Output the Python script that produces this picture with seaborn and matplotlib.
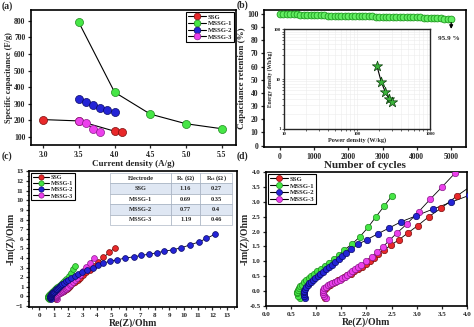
import numpy as np
import pandas as pd
import matplotlib
matplotlib.use("Agg")
import matplotlib.pyplot as plt
from matplotlib.lines import Line2D
from matplotlib.ticker import MultipleLocator, NullFormatter, FixedLocator, FixedFormatter
import seaborn as sns

# ---------------- data ----------------
# (a) specific capacitance vs current density
ssg_a_x = [3.0, 3.5, 4.0, 4.1]
ssg_a_y = [205, 197, 135, 130]
mssg1_a_x = [3.5, 4.0, 4.5, 5.0, 5.5]
mssg1_a_y = [790, 370, 238, 180, 150]
mssg2_a_x = [3.5, 3.6, 3.7, 3.8, 3.9, 4.0]
mssg2_a_y = [330, 312, 295, 277, 262, 248]
mssg3_a_x = [3.5, 3.6, 3.7, 3.8]
mssg3_a_y = [198, 183, 150, 133]

# (b) cycling stability
cycles = [0, 100, 200, 300, 400, 500, 600, 700, 800, 900, 1000, 1100, 1200, 1300, 1400,
          1500, 1600, 1700, 1800, 1900, 2000, 2100, 2200, 2300, 2400, 2500, 2600, 2700,
          2800, 2900, 3000, 3100, 3200, 3300, 3400, 3500, 3600, 3700, 3800, 3900, 4000,
          4100, 4200, 4300, 4400, 4500, 4600, 4700, 4800, 4900, 5000]
retention = [100.0, 99.9, 99.9, 99.8, 99.7, 99.6, 99.5, 99.4, 99.3, 99.2, 99.1, 99.0, 98.9,
             98.9, 98.8, 98.7, 98.7, 98.6, 98.5, 98.5, 98.4, 98.4, 98.3, 98.3, 98.2, 98.2,
             98.1, 98.1, 98.0, 98.0, 97.9, 97.9, 97.8, 97.8, 97.7, 97.7, 97.6, 97.6, 97.5,
             97.4, 97.4, 97.3, 97.2, 97.1, 97.0, 96.9, 96.8, 96.6, 96.4, 96.2, 95.9]
# (b) inset Ragone plot
power_density = [187, 215, 243, 273, 297]
energy_density = [18.3, 8.6, 5.5, 4.0, 3.4]

# (c)/(d) Nyquist data
ssg_re = [1.18, 1.15, 1.14, 1.14, 1.16, 1.19, 1.23, 1.28, 1.33, 1.38, 1.44, 1.50, 1.56, 1.62,
          1.69, 1.76, 1.83, 1.91, 1.99, 2.07, 2.15, 2.23, 2.35, 2.49, 2.65, 2.82, 3.02, 3.24,
          3.49, 3.81, 4.10, 4.45, 4.85, 5.25]
ssg_im = [-0.22, -0.15, -0.08, -0.01, 0.05, 0.11, 0.16, 0.21, 0.26, 0.31, 0.36, 0.41, 0.47,
          0.53, 0.59, 0.66, 0.73, 0.81, 0.90, 1.00, 1.11, 1.25, 1.38, 1.55, 1.73, 1.95, 2.20,
          2.50, 2.79, 3.21, 3.55, 4.05, 4.58, 5.06]
mssg1_re = [0.68, 0.64, 0.62, 0.62, 0.63, 0.65, 0.68, 0.71, 0.75, 0.80, 0.85, 0.90, 0.96,
            1.02, 1.09, 1.17, 1.26, 1.36, 1.46, 1.55, 1.71, 1.87, 2.03, 2.18, 2.35, 2.51]
mssg1_im = [-0.22, -0.15, -0.08, -0.02, 0.04, 0.10, 0.16, 0.22, 0.29, 0.36, 0.43, 0.50, 0.58,
            0.66, 0.75, 0.85, 0.96, 1.09, 1.22, 1.37, 1.58, 1.83, 2.14, 2.48, 2.85, 3.21]
mssg2_re = [0.78, 0.76, 0.75, 0.75, 0.76, 0.78, 0.80, 0.83, 0.86, 0.90, 0.94, 0.98, 1.03, 1.08,
            1.13, 1.19, 1.25, 1.31, 1.38, 1.45, 1.52, 1.60, 1.69, 1.83, 2.01, 2.22, 2.45, 2.69,
            2.99, 3.33, 3.69, 4.05, 4.44, 4.91, 5.42, 5.95, 6.53, 7.08, 7.62, 8.15, 8.66, 9.24,
            9.84, 10.46, 11.09, 11.57, 12.15]
mssg2_im = [-0.22, -0.16, -0.10, -0.04, 0.02, 0.08, 0.14, 0.20, 0.26, 0.32, 0.38, 0.44, 0.51,
            0.58, 0.65, 0.73, 0.81, 0.89, 0.98, 1.07, 1.17, 1.28, 1.40, 1.57, 1.73, 1.92, 2.12,
            2.33, 2.53, 2.76, 2.99, 3.22, 3.47, 3.67, 3.81, 3.99, 4.12, 4.26, 4.40, 4.54, 4.70,
            4.85, 5.06, 5.37, 5.68, 6.03, 6.45]
mssg3_re = [1.20, 1.16, 1.14, 1.13, 1.14, 1.16, 1.19, 1.23, 1.27, 1.32, 1.37, 1.42, 1.47, 1.52,
            1.57, 1.62, 1.67, 1.72, 1.78, 1.84, 1.90, 2.00, 2.10, 2.20, 2.32, 2.45, 2.60, 2.80,
            3.04, 3.27, 3.51, 3.76]
mssg3_im = [-0.24, -0.18, -0.11, -0.04, 0.03, 0.09, 0.14, 0.19, 0.23, 0.27, 0.31, 0.35, 0.39,
            0.44, 0.49, 0.55, 0.61, 0.67, 0.74, 0.81, 0.89, 1.02, 1.16, 1.30, 1.47, 1.70, 1.94,
            2.25, 2.67, 3.09, 3.51, 3.96]

# table
table_rows = [["Electrode", r"R$_{\rm s}$ (Ω)", r"R$_{\rm ct}$ (Ω)"],
              ["SSG", "1.16", "0.27"],
              ["MSSG-1", "0.69", "0.35"],
              ["MSSG-2", "0.77", "0.4"],
              ["MSSG-3", "1.19", "0.46"]]

labels = ["SSG", "MSSG-1", "MSSG-2", "MSSG-3"]
faces = ["#e8282a", "#46e646", "#2424d6", "#ec40ec"]
edges = ["#7a0c0c", "#1d8a1d", "#0a0a66", "#8a1a8a"]

# ---------------- style ----------------
sns.set_style("ticks")
plt.rcParams["font.family"] = ["Liberation Serif", "DejaVu Serif"]
plt.rcParams["font.weight"] = "bold"
plt.rcParams["axes.labelweight"] = "bold"
plt.rcParams["mathtext.fontset"] = "custom"
plt.rcParams["mathtext.rm"] = "Liberation Serif:bold"
plt.rcParams["mathtext.it"] = "Liberation Serif:bold"
plt.rcParams["mathtext.bf"] = "Liberation Serif:bold"
plt.rcParams["axes.linewidth"] = 1.2
plt.rcParams["xtick.major.width"] = 0.9
plt.rcParams["ytick.major.width"] = 0.9
plt.rcParams["xtick.major.size"] = 2.5
plt.rcParams["ytick.major.size"] = 2.5
plt.rcParams["xtick.minor.size"] = 1.5
plt.rcParams["ytick.minor.size"] = 1.5
plt.rcParams["xtick.major.pad"] = 1.5
plt.rcParams["ytick.major.pad"] = 1.5

fig = plt.figure(figsize=(4.74, 3.27), dpi=100)


def series(ax, x, y, face, edge, ms, lw=0.8):
    df = pd.DataFrame({"x": x, "y": y})
    sns.lineplot(data=df, x="x", y="y", ax=ax, color="black", lw=lw, sort=False,
                 estimator=None, zorder=2)
    sns.scatterplot(data=df, x="x", y="y", ax=ax, color=face, edgecolor=edge, s=ms ** 2,
                    linewidth=0.5, zorder=3)


def make_legend(ax, ms, loc, fs, bbox=None):
    handles = [Line2D([0], [0], color="black", lw=0.8, marker="o", mfc=f, mec=e, mew=0.5, ms=ms)
               for f, e in zip(faces, edges)]
    leg = ax.legend(handles, labels, loc=loc, fontsize=fs, frameon=True, fancybox=False,
                    edgecolor="black", handlelength=2.6, handletextpad=0.3, borderpad=0.3,
                    labelspacing=0.15, borderaxespad=0.3, bbox_to_anchor=bbox)
    leg.get_frame().set_linewidth(0.8)
    leg.get_frame().set_alpha(1)


def frame(ax, fs=5.5):
    ax.tick_params(labelsize=fs, direction="out")
    for s in ax.spines.values():
        s.set_visible(True)
        s.set_color("black")
    for lab in ax.get_xticklabels() + ax.get_yticklabels():
        lab.set_fontweight("bold")


# ---------------- (a) ----------------
ax_a = fig.add_axes([0.0654, 0.5566, 0.4325, 0.4128])
for (x, y), f, e in zip([(ssg_a_x, ssg_a_y), (mssg1_a_x, mssg1_a_y),
                         (mssg2_a_x, mssg2_a_y), (mssg3_a_x, mssg3_a_y)], faces, edges):
    series(ax_a, x, y, f, e, 5.8)
ax_a.set_xlim(2.83, 5.7)
ax_a.set_ylim(52, 865)
ax_a.xaxis.set_major_locator(MultipleLocator(0.5))
ax_a.yaxis.set_major_locator(MultipleLocator(100))
ax_a.xaxis.set_major_formatter(matplotlib.ticker.FormatStrFormatter("%.1f"))
ax_a.set_xlabel("Current density (A/g)", fontsize=6.5, labelpad=1)
ax_a.set_ylabel("Specific capacitance (F/g)", fontsize=6, labelpad=1)
frame(ax_a)
make_legend(ax_a, 4.8, "upper right", 4.8)

# ---------------- (b) ----------------
ax_b = fig.add_axes([0.557, 0.5505, 0.426, 0.419])
sns.scatterplot(x=cycles, y=retention, ax=ax_b, color="#62ee62", edgecolor="#1f9a1f",
                s=24, linewidth=0.6, zorder=3)
ax_b.set_xlim(-460, 5430)
ax_b.set_ylim(-1, 103)
ax_b.xaxis.set_major_locator(MultipleLocator(1000))
ax_b.yaxis.set_major_locator(MultipleLocator(10))
ax_b.set_xlabel("Number of cycles", fontsize=8, labelpad=0)
ax_b.set_ylabel("Capacitance retention (%)", fontsize=6.5, labelpad=1)
frame(ax_b)
ax_b.annotate("", xy=(5000, 86.5), xytext=(5000, 95.5),
              arrowprops=dict(arrowstyle="-|>", color="black", lw=0.9, mutation_scale=5))
ax_b.text(4930, 81.5, "95.9 %", fontsize=5.2, ha="center", va="center", fontweight="bold")

ax_in = fig.add_axes([0.5985, 0.6064, 0.3093, 0.304])
ax_in.set_xscale("log")
ax_in.set_yscale("log")
ax_in.set_xlim(10, 1000)
ax_in.set_ylim(1, 100)
ax_in.grid(True, which="both", color="#ececec", lw=0.4)
sns.lineplot(x=power_density, y=energy_density, ax=ax_in, color="black", lw=0.8, sort=False,
             estimator=None, zorder=2)
sns.scatterplot(x=power_density, y=energy_density, ax=ax_in, marker="*", s=60,
                color="#3bb53b", edgecolor="#0b3a0b", linewidth=0.5, zorder=3)
ax_in.xaxis.set_major_locator(FixedLocator([10, 100, 1000]))
ax_in.xaxis.set_major_formatter(FixedFormatter(["10", "100", "1000"]))
ax_in.yaxis.set_major_locator(FixedLocator([1, 10, 100]))
ax_in.yaxis.set_major_formatter(FixedFormatter(["1", "10", "100"]))
ax_in.xaxis.set_minor_formatter(NullFormatter())
ax_in.yaxis.set_minor_formatter(NullFormatter())
ax_in.set_xlabel("Power density (W/kg)", fontsize=4.5, labelpad=1)
ax_in.set_ylabel("Energy density (Wh/kg)", fontsize=4, labelpad=0)
ax_in.tick_params(labelsize=3.5, which="both", length=1.2, width=0.5, pad=1)
for s in ax_in.spines.values():
    s.set_linewidth(1.0)

# ---------------- (c) ----------------
nyq = [(ssg_re, ssg_im, 0), (mssg1_re, mssg1_im, 1), (mssg3_re, mssg3_im, 3),
       (mssg2_re, mssg2_im, 2)]
ax_c = fig.add_axes([0.0612, 0.0612, 0.4388, 0.4159])
for x, y, i in nyq:
    series(ax_c, x, y, faces[i], edges[i], 4.2, lw=0.6)
ax_c.set_xlim(-0.71, 13.7)
ax_c.set_ylim(-1.1, 13.05)
ax_c.xaxis.set_major_locator(MultipleLocator(1))
ax_c.yaxis.set_major_locator(MultipleLocator(1))
ax_c.xaxis.set_minor_locator(MultipleLocator(0.5))
ax_c.yaxis.set_minor_locator(MultipleLocator(0.5))
ax_c.set_xlabel("Re(Z)/Ohm", fontsize=7, labelpad=0.5)
ax_c.set_ylabel("-Im(Z)/Ohm", fontsize=7, labelpad=0)
frame(ax_c, 5)
make_legend(ax_c, 3.8, "upper left", 4.4)

tab = ax_c.table(cellText=table_rows, cellLoc="center", bbox=[0.389, 0.603, 0.587, 0.382],
                 colWidths=[0.5, 0.24, 0.26])
tab.auto_set_font_size(False)
tab.set_fontsize(4.6)
for (r, c), cell in tab.get_celld().items():
    cell.set_linewidth(0.4)
    cell.set_edgecolor("#9aa6b8")
    cell.get_text().set_fontweight("bold")
    cell.set_facecolor("#dfe7f3" if r in (1, 3) else "white")

# ---------------- (d) ----------------
ax_d = fig.add_axes([0.5612, 0.0642, 0.424, 0.4098])
for x, y, i in nyq:
    series(ax_d, x, y, faces[i], edges[i], 4.6, lw=0.6)
ax_d.set_xlim(0, 4.0)
ax_d.set_ylim(-0.5, 4.0)
ax_d.xaxis.set_major_locator(MultipleLocator(0.5))
ax_d.yaxis.set_major_locator(MultipleLocator(0.5))
fmt = matplotlib.ticker.FormatStrFormatter("%.1f")
ax_d.xaxis.set_major_formatter(fmt)
ax_d.yaxis.set_major_formatter(fmt)
ax_d.set_xlabel("Re(Z)/Ohm", fontsize=7, labelpad=0.5)
ax_d.set_ylabel("-Im(Z)/Ohm", fontsize=7, labelpad=0)
frame(ax_d, 5)
make_legend(ax_d, 4.3, "upper left", 4.9)

# panel labels
for txt, x, y in [("(a)", 0.004, 0.997), ("(b)", 0.5, 0.999), ("(c)", 0.004, 0.538),
                  ("(d)", 0.5, 0.538)]:
    fig.text(x, y, txt, fontsize=7, fontweight="bold", va="top", ha="left")

fig.savefig("out.png", dpi=100)
